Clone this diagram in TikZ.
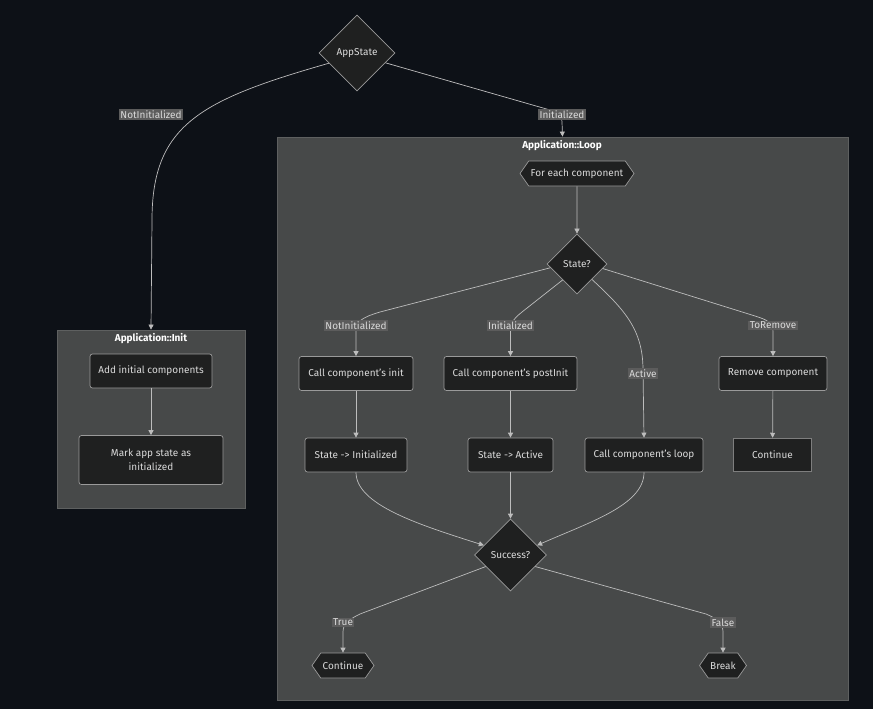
\documentclass[tikz,border=0pt]{standalone}
\usepackage{fontspec}
\setmainfont{Fira Sans}
\usetikzlibrary{shapes.geometric,shapes.symbols,arrows.meta}
\definecolor{bgc}{HTML}{0D1117}
\definecolor{clc}{HTML}{474949}
\definecolor{clb}{HTML}{5E6060}
\definecolor{ndc}{HTML}{1F2020}
\definecolor{ndb}{HTML}{9A9A9A}
\definecolor{sqb}{HTML}{7E7E7E}
\definecolor{lbc}{HTML}{5C5C5C}
\definecolor{txc}{HTML}{DADADA}
\definecolor{edc}{HTML}{BDBDBD}
\tikzset{
  every node/.style={font=\fontsize{10}{12}\selectfont, text=txc},
  cluster/.style={draw=clb, fill=clc, line width=0.8pt, inner sep=0},
  ctitle/.style={font=\fontsize{10}{12}\selectfont\bfseries, text=white},
  box/.style={draw=ndb, fill=ndc, rounded corners=2.5pt, line width=0.7pt, inner sep=0, align=center},
  sqbox/.style={draw=sqb, fill=ndc, line width=1.5pt, inner sep=0},
  dia/.style={draw=ndb, fill=ndc, diamond, aspect=1, inner sep=0, line width=0.7pt},
  hexa/.style={draw=ndb, fill=ndc, signal, signal to=east and west, signal pointer angle=110, inner sep=0, line width=0.7pt, minimum height=25pt},
  elabel/.style={fill=lbc, inner sep=1.3pt, text=txc},
  edge/.style={draw=edc, line width=0.7pt},
  arr/.style={edge, -{Triangle[width=5pt,length=5pt]}},
}
\begin{document}
\begin{tikzpicture}[x=1pt,y=-1pt]
\fill[bgc] (0,0) rectangle (873,709);
\useasboundingbox (0,0) rectangle (873,709);
% clusters
\node[cluster, minimum width=188pt, minimum height=178pt] (init) at (151,419) {};
\node[ctitle] (inittitle) at (151,338.5) {Application::Init};
\node[cluster, minimum width=571pt, minimum height=563pt] (loop) at (562.5,418.5) {};
\node[ctitle] (looptitle) at (562,145.5) {Application::Loop};
% top decision
\node[dia, minimum width=76pt, minimum height=76pt] (app) at (357,53) {AppState};
% init nodes
\node[box, minimum width=122pt, minimum height=34pt] (add) at (151,371) {Add initial components};
\node[box, minimum width=144pt, minimum height=49pt] (mark) at (151,460) {Mark app state as\\[2pt]initialized};
% loop nodes
\node[hexa, minimum width=114pt] (fe) at (577,173.5) {For each component};
\node[dia, minimum width=60pt, minimum height=60pt] (state) at (577,264) {State?};
\node[box, minimum width=114pt, minimum height=34pt] (cinit) at (356,373.5) {Call component's init};
\node[box, minimum width=133pt, minimum height=34pt] (cpost) at (510.5,373.5) {Call component's postInit};
\node[box, minimum width=108pt, minimum height=34pt] (rem) at (773,373.5) {Remove component};
\node[box, minimum width=102pt, minimum height=34pt] (sinit) at (356,455) {State -> Initialized};
\node[box, minimum width=85pt, minimum height=34pt] (sact) at (510.5,455) {State -> Active};
\node[box, minimum width=118pt, minimum height=34pt] (cloop) at (644,455) {Call component's loop};
\node[sqbox, minimum width=78pt, minimum height=33pt] (cont1) at (772.5,455) {Continue};
\node[dia, minimum width=72pt, minimum height=72pt] (succ) at (510.5,555) {Success?};
\node[hexa, minimum width=62pt] (cont2) at (343,665.5) {Continue};
\node[hexa, minimum width=47pt] (brk) at (723,665.5) {Break};
% edges
\draw[arr] (app.200) .. controls (200,100) and (152,125) .. (152,220) -- (init.north);
\draw[arr] (app.-19) -- (550,110) .. controls (560,113) and (562,116) .. (562,122) -- (loop.north);
\draw[arr] (add) -- (mark);
\draw[arr] (fe) -- (state);
\draw[arr] (state.188) -- (380,312) .. controls (360,318) and (356,322) .. (356,332) -- (cinit.north);
\draw[arr] (state.228) -- (522,312) .. controls (512,320) and (510.5,324) .. (510.5,332) -- (cpost.north);
\draw[arr] (state.-46) .. controls (625,310) and (643,330) .. (643,370) -- (cloop.north);
\draw[arr] (state.-10) -- (755,316) .. controls (768,320) and (773,323) .. (773,332) -- (rem.north);
\draw[arr] (cinit) -- (sinit);
\draw[arr] (cpost) -- (sact);
\draw[arr] (rem) -- (cont1);
\draw[arr] (sinit.south) .. controls (356,505) and (420,525) .. (succ.160);
\draw[arr] (sact.south) -- (succ.north);
\draw[arr] (cloop.south) .. controls (644,505) and (590,522) .. (succ.20);
\draw[arr] (succ.205) -- (360,614) .. controls (348,620) and (343,624) .. (343,632) -- (cont2.north);
\draw[arr] (succ.-25) -- (706,614) .. controls (718,619) and (723,624) .. (723,632) -- (brk.north);
% edge labels
\node[elabel] (l1) at (151,114.5) {NotInitialized};
\node[elabel] (l2) at (562,114.5) {Initialized};
\node[elabel] (l3) at (356,325.5) {NotInitialized};
\node[elabel] (l4) at (510.5,325.5) {Initialized};
\node[elabel] (l5) at (643,373.5) {Active};
\node[elabel] (l6) at (773,325.5) {ToRemove};
\node[elabel] (l7) at (343,622.5) {True};
\node[elabel] (l8) at (723,622.5) {False};
\end{tikzpicture}
\end{document}
